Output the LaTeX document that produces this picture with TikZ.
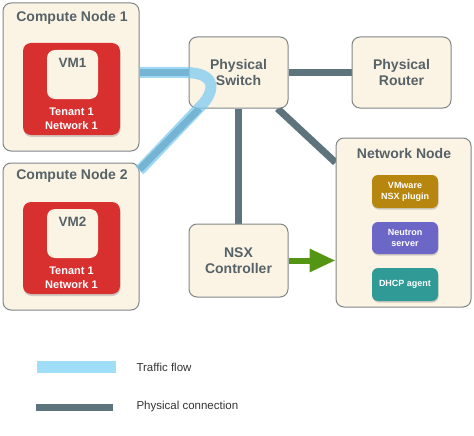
\documentclass[tikz,border=0pt]{standalone}
\usepackage{fontspec}
\setmainfont{Liberation Sans}
\usetikzlibrary{arrows.meta,shadows,backgrounds}

\definecolor{cream}{RGB}{251,244,229}
\definecolor{boxline}{RGB}{128,134,136}
\definecolor{titletext}{RGB}{86,98,103}
\definecolor{vmred}{RGB}{216,48,47}
\definecolor{linkslate}{RGB}{94,116,125}
\definecolor{flowblue}{RGB}{125,203,240}
\definecolor{legendblue}{RGB}{160,222,248}
\definecolor{ctlgreen}{RGB}{84,150,20}
\definecolor{nsxgold}{RGB}{183,134,14}
\definecolor{neutronblue}{RGB}{108,103,198}
\definecolor{dhcpteal}{RGB}{47,154,150}

\tikzset{
  hostbox/.style={draw=boxline, fill=cream, line width=1pt, rounded corners=8pt,
    font=\fontsize{14}{16}\selectfont\bfseries, text=titletext, align=center},
  hosttitle/.style={font=\fontsize{14}{16}\selectfont\bfseries, text=titletext},
  tenantbox/.style={fill=vmred, rounded corners=8pt, minimum width=97pt, minimum height=92pt,
    drop shadow={shadow xshift=0.5pt, shadow yshift=-2pt, opacity=.35}},
  vmbox/.style={fill=cream, rounded corners=8pt, minimum width=51pt, minimum height=49pt},
  vmtext/.style={font=\fontsize{13.5}{15}\selectfont\bfseries, text=titletext},
  tenanttext/.style={font=\fontsize{11}{14}\selectfont\bfseries, text=white, align=center},
  svcbox/.style={rounded corners=6pt, minimum width=66pt, minimum height=32pt, text=white,
    font=\fontsize{9}{11}\selectfont\bfseries, align=center,
    drop shadow={shadow xshift=0.5pt, shadow yshift=-1.5pt, opacity=.35}},
  link/.style={draw=linkslate, line width=7pt},
  flow/.style={draw=flowblue, line width=11pt, opacity=.75},
  legendtext/.style={anchor=west, font=\fontsize{11.5}{13}\selectfont, text=black!80},
}

\begin{document}
\begin{tikzpicture}[x=1pt, y=-1pt]
  \useasboundingbox (0,0) rectangle (474,436);

  % compute nodes
  \node (cn1) [hostbox, minimum width=136pt, minimum height=148pt] at (71,77) {};
  \node (cn1t) [hosttitle] at (72,18) {Compute Node 1};
  \node (tn1) [tenantbox] at (71.5,89) {};
  \node (vm1) [vmbox] at (72.5,74.5) {};
  \node (vm1t) [vmtext] at (72.5,63) {VM1};
  \node (tn1t) [tenanttext] at (71.5,119) {Tenant 1\\Network 1};

  \node (cn2) [hostbox, minimum width=136pt, minimum height=147pt] at (71,236.5) {};
  \node (cn2t) [hosttitle] at (72,176) {Compute Node 2};
  \node (tn2) [tenantbox] at (71.5,248) {};
  \node (vm2) [vmbox] at (72.5,233.5) {};
  \node (vm2t) [vmtext] at (72.5,222) {VM2};
  \node (tn2t) [tenanttext] at (71.5,278) {Tenant 1\\Network 1};

  % switch, router, controller
  \node (sw) [hostbox, minimum width=99pt, minimum height=71pt] at (238.5,72.5) {Physical\\Switch};
  \node (rt) [hostbox, minimum width=99pt, minimum height=71pt] at (401.5,72.5) {Physical\\Router};
  \node (nsx) [hostbox, minimum width=99pt, minimum height=73pt] at (238.5,260.5) {NSX\\Controller};

  % network node
  \node (nn) [hostbox, minimum width=135pt, minimum height=169pt] at (403.5,222.5) {};
  \node (nnt) [hosttitle] at (404,153) {Network Node};
  \node (plg) [svcbox, fill=nsxgold, minimum height=33pt] at (405,191.5) {VMware\\NSX plugin};
  \node (ntr) [svcbox, fill=neutronblue] at (405,238) {Neutron\\server};
  \node (dhcp) [svcbox, fill=dhcpteal, minimum height=33pt] at (405,284.5) {DHCP agent};

  % physical connections
  \begin{scope}[on background layer]
    \draw[link] (sw.west) -- (sw.west -| cn1.east);
    \draw[link] ([xshift=11pt]sw.south west) -- ([yshift=-7pt]cn2.north east);
    \draw[link] (sw.east) -- (rt.west);
    \draw[link] (sw.south) -- (nsx.north);
    \draw[link] ([xshift=-11pt]sw.south east) -- ([yshift=-25pt]nn.north west);
  \end{scope}

  % traffic flow
  \draw[flow] (sw.west -| cn1.east) -- (185,72.5)
    .. controls (218,72.5) and (216,92) .. ([xshift=10pt]sw.south west)
    -- ([yshift=-8pt]cn2.north east);

  % controller to network node
  \draw[draw=ctlgreen, line width=6pt, -{Triangle[length=26pt,width=22pt]}]
    (nsx.east) -- (nsx.east -| nn.west);

  % legend
  \coordinate (tf1) at (37,367);
  \coordinate (tf2) at (116,367);
  \coordinate (pc1) at (36,407);
  \coordinate (pc2) at (113,407);
  \draw[draw=legendblue, line width=12pt] (tf1) -- (tf2);
  \draw[link] (pc1) -- (pc2);
  \node (tft) [legendtext] at (133,367) {Traffic flow};
  \node (pct) [legendtext] at (133,407) {Physical connection};
\end{tikzpicture}
\end{document}
